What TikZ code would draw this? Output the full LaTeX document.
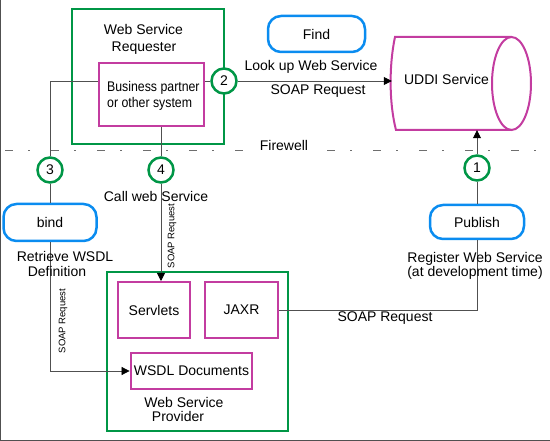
\documentclass[tikz,border=0pt]{standalone}
\usepackage{fontspec}
\setmainfont{Liberation Sans}
\usetikzlibrary{arrows.meta,calc}
\definecolor{greenc}{RGB}{0,150,70}
\definecolor{magc}{RGB}{195,60,160}
\definecolor{bluec}{RGB}{10,140,240}
\definecolor{linec}{RGB}{80,80,80}
\definecolor{fwc}{RGB}{110,110,110}
\begin{document}
\begin{tikzpicture}[x=1pt,y=-1pt,
  txt/.style={font=\fontsize{14}{16}\selectfont, inner sep=0pt},
  smalltxt/.style={font=\fontsize{9.5}{11}\selectfont, inner sep=0pt},
  grnbox/.style={draw=greenc, line width=2.5pt},
  magbox/.style={draw=magc, line width=2pt, font=\fontsize{14}{16}\selectfont},
  pill/.style={draw=bluec, line width=2.5pt, rounded corners=13pt, font=\fontsize{14}{16}\selectfont},
  num/.style={circle, draw=greenc, line width=2.5pt, fill=white, minimum size=25pt, inner sep=0pt, font=\fontsize{14}{16}\selectfont},
  conn/.style={draw=linec, line width=0.8pt},
  arr/.style={conn, -{Triangle[length=8pt,width=8pt,black]}},
  fw/.style={draw=fwc, line width=0.9pt, dash pattern=on 8pt off 15pt on 1.5pt off 21.5pt},
  border/.style={draw=linec, line width=1.3pt}
]
\useasboundingbox (0,0) rectangle (550,441);
% frame
\draw[border] (0.6,0) -- (0.6,440.4) -- (550,440.4);

% firewall line
\draw[fw] (5,150) -- (548,150);
\node[txt, anchor=base, fill=white, inner xsep=2pt] (fwl) at (284,151) {Firewell};

% requester
\node[grnbox, minimum width=152pt, minimum height=135pt] (req) at (148,76.5) {};
\node[txt, anchor=base] (req1) at (143.5,35) {Web Service};
\node[txt, anchor=base] (req2) at (144,52) {Requester};
\node[magbox, minimum width=105pt, minimum height=63pt] (bp) at (151.5,94.5) {};
\node[txt, anchor=base west, xscale=0.88] (bp1) at (107,92) {Business partner};
\node[txt, anchor=base west, xscale=0.88] (bp2) at (107,108) {or other system};

% find
\node[pill, minimum width=97pt, minimum height=36pt] (find) at (316.5,34) {Find};

% UDDI
\node[inner sep=0pt, minimum width=139pt, minimum height=93pt] (uddi) at (461.5,83.5) {};
\draw[magbox] (511.5,37) -- (395,37) .. controls (389,65) and (389,103) .. (396,130) -- (511.5,130);
\draw[magbox] (511.5,83.5) ellipse [x radius=19.5pt, y radius=46.5pt];
\node[txt, anchor=base] (uddil) at (446.5,85) {UDDI Service};

% circles
\node[num] (c2) at (224,81) {2};
\node[num] (c3) at (50,170) {3};
\node[num] (c4) at (161,170) {4};
\node[num] (c1) at (477,168) {1};

% bind / publish
\node[pill, minimum width=93pt, minimum height=37pt] (bind) at (50,222.5) {bind};
\node[pill, minimum width=94pt, minimum height=34pt] (publish) at (477,222) {Publish};

% provider
\node[grnbox, minimum width=181pt, minimum height=159pt] (prov) at (197.5,351.5) {};
\node[magbox, minimum width=72pt, minimum height=56pt] (servlets) at (154,310) {Servlets};
\node[magbox, minimum width=73pt, minimum height=56pt] (jaxr) at (241.5,310) {JAXR};
\node[magbox, minimum width=113pt, minimum height=36pt] (wsdl) at (191.5,371) {WSDL Documents};
\node[txt, anchor=base] (prov1) at (184,407) {Web Service};
\node[txt, anchor=base] (prov2) at (178,422) {Provider};

% connectors
\draw[conn] (bp.west |- c2) -| (c3);
\draw[conn] (c3) -- (bind);
\draw[arr] (bind) |- (wsdl);
\draw[conn] (c4 |- bp.south) -- (c4);
\draw[arr] (c4) -- (c4 |- servlets.north);
\draw[conn] (bp.east |- c2) -- (c2);
\draw[arr] (c2) -- (c2 -| uddi.west);
\draw[conn] (jaxr) -| (publish);
\draw[conn] (publish) -- (c1);
\draw[arr] (c1) -- (c1 |- uddi.south);

% labels
\node[txt, anchor=base] (look) at (311,71) {Look up Web Service};
\node[txt, anchor=base] (soap1) at (318,95) {SOAP Request};
\node[txt, anchor=base] (call) at (156,202) {Call web Service};
\node[smalltxt, rotate=90] (soap2) at (172,236) {SOAP Request};
\node[txt, anchor=base] (ret1) at (65,262) {Retrieve WSDL};
\node[txt, anchor=base] (ret2) at (57,277) {Definition};
\node[smalltxt, rotate=90] (soap3) at (63,321) {SOAP Request};
\node[txt, anchor=base] (reg1) at (475,263) {Register Web Service};
\node[txt, anchor=base] (reg2) at (475,277) {(at development time)};
\node[txt, anchor=base] (soap4) at (385,322) {SOAP Request};
\end{tikzpicture}
\end{document}
